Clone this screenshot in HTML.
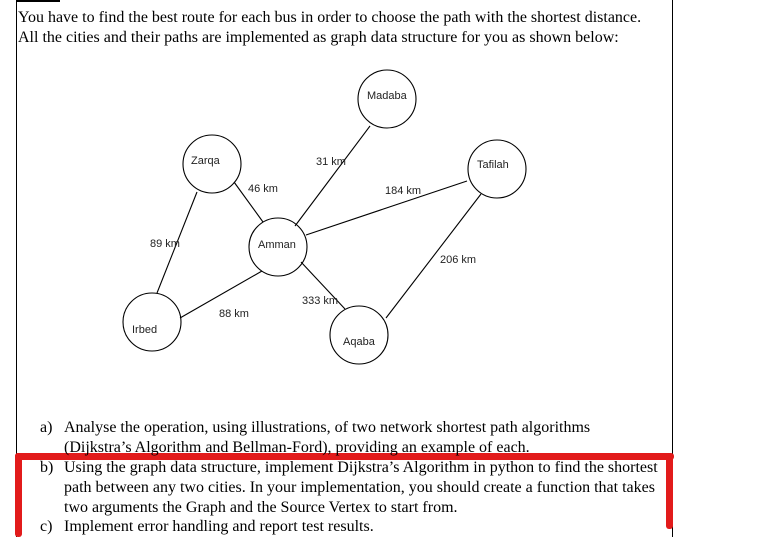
<!DOCTYPE html>
<html><head><meta charset="utf-8"><style>
body{margin:0;width:771px;height:537px;background:#fff;overflow:hidden;position:relative;font-family:"Liberation Serif",serif;}
.t{position:absolute;font-size:16px;color:#000;white-space:nowrap;line-height:20px;}
svg{position:absolute;left:0;top:0}
</style></head><body>
<svg width="771" height="537">
<line x1="16.5" y1="0" x2="16.5" y2="537" stroke="#000" stroke-width="1"/>
<line x1="672.5" y1="0" x2="672.5" y2="537" stroke="#000" stroke-width="1"/>
<line x1="16" y1="1" x2="60" y2="1" stroke="#000" stroke-width="2"/>
<g stroke="#000" stroke-width="1.1" fill="none">
<line x1="370" y1="126" x2="295" y2="226"/>
<line x1="467" y1="181" x2="306" y2="235"/>
<line x1="481" y1="194" x2="386" y2="318"/>
<line x1="301" y1="262" x2="345" y2="309"/>
<line x1="263" y1="222" x2="234" y2="182"/>
<line x1="197" y1="192" x2="157" y2="293"/>
<line x1="262" y1="271" x2="180" y2="318"/>
<circle cx="387" cy="99" r="29"/>
<circle cx="497" cy="169" r="29"/>
<circle cx="359" cy="335" r="29"/>
<circle cx="212" cy="164" r="29"/>
<circle cx="278" cy="247" r="29"/>
<circle cx="152" cy="322" r="29"/>
</g>
<g font-family="Liberation Sans, sans-serif" font-size="11" fill="#222">
<text x="367" y="99">Madaba</text>
<text x="477" y="168">Tafilah</text>
<text x="343" y="345">Aqaba</text>
<text x="191" y="164">Zarqa</text>
<text x="258" y="248">Amman</text>
<text x="132" y="333">Irbed</text>
<text x="316" y="165">31 km</text>
<text x="248" y="192">46 km</text>
<text x="385" y="194">184 km</text>
<text x="150" y="247">89 km</text>
<text x="440" y="263">206 km</text>
<text x="302" y="304">333 km</text>
<text x="219" y="317">88 km</text>
</g>
<g fill="#e21b1b">
<rect x="15" y="453" width="659" height="7" rx="3"/>
<rect x="15" y="453" width="7" height="84" rx="3"/>
<rect x="666" y="453" width="7" height="76" rx="3"/>
</g>
</svg>
<div class="t" style="left:18px;top:8px">You have to find the best route for each bus in order to choose the path with the shortest distance.</div>
<div class="t" style="left:18px;top:28px">All the cities and their paths are implemented as graph data structure for you as shown below:</div>
<div class="t" style="left:40px;top:418px">a)</div>
<div class="t" style="left:64px;top:418px">Analyse the operation, using illustrations, of two network shortest path algorithms</div>
<div class="t" style="left:64px;top:438px">(Dijkstra’s Algorithm and Bellman-Ford), providing an example of each.</div>
<div class="t" style="left:40px;top:458px">b)</div>
<div class="t" style="left:64px;top:458px">Using the graph data structure, implement Dijkstra’s Algorithm in python to find the shortest</div>
<div class="t" style="left:64px;top:478px">path between any two cities. In your implementation, you should create a function that takes</div>
<div class="t" style="left:64px;top:498px">two arguments the Graph and the Source Vertex to start from.</div>
<div class="t" style="left:40px;top:517px">c)</div>
<div class="t" style="left:64px;top:517px">Implement error handling and report test results.</div>
</body></html>
